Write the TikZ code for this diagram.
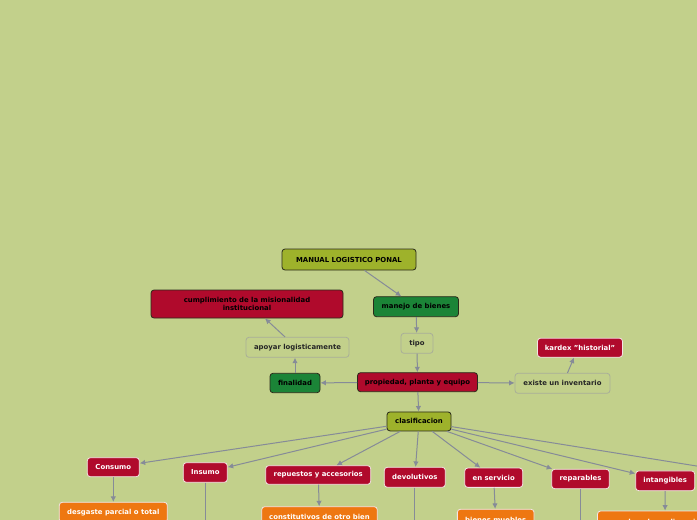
\documentclass[tikz,border=0pt]{standalone}
\usepackage{fontspec}
\setmainfont{DejaVu Sans}
\usetikzlibrary{arrows.meta,calc}
\definecolor{bg}{HTML}{C2D08B}
\definecolor{ygreen}{HTML}{9EB22B}
\definecolor{dred}{HTML}{B00A2C}
\definecolor{dgreen}{HTML}{1B8437}
\definecolor{orng}{HTML}{EE7711}
\definecolor{linec}{HTML}{868B98}
\definecolor{gborder}{HTML}{A9AE99}
\definecolor{darkb}{HTML}{2A2A1A}
\definecolor{lborder}{HTML}{F4E4E6}
\tikzset{
  base/.style={rounded corners=3pt, line width=0.8pt, inner sep=0pt, align=center,
    font=\fontsize{6.9}{7.7}\selectfont\bfseries},
  topbox/.style={base, draw=darkb, text=black},
  plainbox/.style={base, draw=gborder, text=black!85},
  lowbox/.style={base, draw=lborder, fill=dred, text=white},
  orbox/.style={base, draw=lborder, fill=orng, text=white},
  conn/.style={draw=linec, line width=1pt, -{Latex[length=5.5pt,width=5.5pt]}},
  plainline/.style={draw=linec, line width=1pt},
}
\begin{document}
\begin{tikzpicture}[x=1pt,y=-1pt]
\useasboundingbox (0,0) rectangle (697,520);
\clip (0,0) rectangle (697,520);
\fill[bg] (0,0) rectangle (697,520);

% top part
\node[topbox, fill=ygreen, minimum width=134pt, minimum height=21pt] (manual) at (349,259.5) {MANUAL LOGISTICO PONAL};
\node[topbox, fill=dred, minimum width=192pt, minimum height=28pt] (cump) at (247,304) {cumplimiento de la misionalidad\\institucional};
\node[topbox, fill=dgreen, minimum width=85pt, minimum height=20pt] (manejo) at (416,306.7) {manejo de bienes};
\node[plainbox, minimum width=32pt, minimum height=20pt] (tipo) at (417,343.3) {tipo};
\node[plainbox, minimum width=103pt, minimum height=20pt] (apoyar) at (297.5,347.3) {apoyar logisticamente};
\node[topbox, fill=dgreen, minimum width=50pt, minimum height=19.4pt] (finalidad) at (295,383) {finalidad};
\node[topbox, fill=dred, minimum width=120pt, minimum height=19pt] (prop) at (417.5,382.2) {propiedad, planta y equipo};
\node[lowbox, minimum width=85pt, minimum height=19pt] (kardex) at (580,347.7) {kardex "historial"};
\node[plainbox, minimum width=95pt, minimum height=20pt] (existe) at (562.5,383.3) {existe un inventario};
\node[topbox, fill=ygreen, minimum width=64pt, minimum height=19pt] (clasif) at (419,421.4) {clasificacion};

% second level
\node[lowbox, minimum width=52pt, minimum height=19pt] (consumo) at (113.3,467.2) {Consumo};
\node[lowbox, minimum width=44pt, minimum height=19.6pt] (insumo) at (205.3,472.5) {Insumo};
\node[lowbox, minimum width=105pt, minimum height=18.6pt] (repuestos) at (318.2,475) {repuestos y accesorios};
\node[lowbox, minimum width=61pt, minimum height=20pt] (devol) at (414.8,477.3) {devolutivos};
\node[lowbox, minimum width=58pt, minimum height=19.3pt] (servicio) at (493.7,477.7) {en servicio};
\node[lowbox, minimum width=57.6pt, minimum height=19.4pt] (repar) at (580.5,479) {reparables};
\node[lowbox, minimum width=59pt, minimum height=19.7pt] (intang) at (665.2,480.8) {intangibles};
\coordinate (offright) at (790,481);

% third level
\node[orbox, minimum width=108pt, minimum height=20pt] (desgaste) at (113.3,512.3) {desgaste parcial o total};
\node[orbox, minimum width=115.6pt, minimum height=20pt] (constit) at (319.5,516.7) {constitutivos de otro bien};
\node[orbox, minimum width=76.7pt, minimum height=22pt] (muebles) at (495.7,520.3) {bienes muebles};
\node[orbox, minimum width=135pt, minimum height=24pt] (intangb) at (665,523) {derechos y licencias};
\coordinate (insumoend) at (205.3,560);
\coordinate (devolend) at (414.8,560);
\coordinate (reparend) at (580.5,560);

% connectors
\draw[conn] (manual) -- (manejo);
\draw[conn] (manejo) -- (tipo);
\draw[conn] (tipo) -- (prop);
\draw[conn] (prop) -- (finalidad);
\draw[conn] (finalidad) -- (finalidad |- apoyar.south);
\draw[conn] ($(apoyar.north)+(-12.5pt,0)$) -- ($(cump.south)+(18pt,0)$);
\draw[conn] (prop) -- (existe);
\draw[conn] ($(existe.north)+(5pt,0)$) -- ($(kardex.south)+(-6pt,0)$);
\draw[conn] (prop) -- (clasif);

\draw[conn] (clasif) -- (consumo);
\draw[conn] (clasif) -- (insumo);
\draw[conn] (clasif) -- (repuestos);
\draw[conn] (clasif) -- (devol);
\draw[conn] (clasif) -- (servicio);
\draw[conn] (clasif) -- (repar);
\draw[conn] (clasif) -- (intang);
\draw[plainline] (clasif) -- (offright);

\draw[conn] (consumo) -- (desgaste);
\draw[plainline] (insumo) -- (insumoend);
\draw[conn] (repuestos) -- (constit);
\draw[plainline] (devol) -- (devolend);
\draw[conn] (servicio) -- (muebles);
\draw[plainline] (repar) -- (reparend);
\draw[conn] (intang) -- (intangb);
\end{tikzpicture}
\end{document}
